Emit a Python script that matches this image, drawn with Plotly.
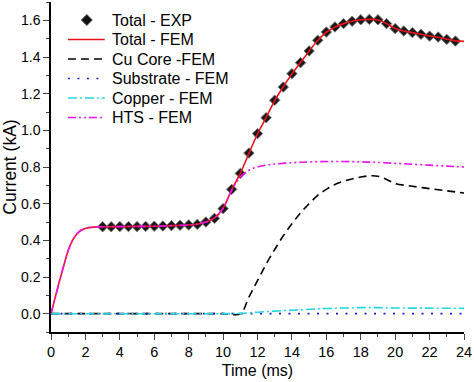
import plotly.graph_objects as go

# Experimental total current (ms, kA)
t_exp = [3.0, 3.5, 4.0, 4.5, 5.0, 5.5, 6.0, 6.5, 7.0, 7.5, 8.0, 8.5, 9.0, 9.5, 10.0,
         10.5, 11.0, 11.5, 12.0, 12.5, 13.0, 13.5, 14.0, 14.5, 15.0, 15.5, 16.0, 16.5,
         17.0, 17.5, 18.0, 18.5, 19.0, 19.5, 20.0, 20.5, 21.0, 21.5, 22.0, 22.5, 23.0, 23.5]
i_exp = [0.474, 0.474, 0.475, 0.475, 0.475, 0.476, 0.477, 0.478, 0.480, 0.482, 0.484, 0.487, 0.500, 0.520, 0.573,
         0.678, 0.765, 0.876, 0.982, 1.069, 1.164, 1.236, 1.309, 1.369, 1.433, 1.491, 1.536, 1.564,
         1.582, 1.595, 1.603, 1.605, 1.603, 1.582, 1.555, 1.542, 1.533, 1.524, 1.514, 1.509, 1.496, 1.487]

# FEM total
t_fem = [0.0, 0.25, 0.5, 0.75, 1.0, 1.25, 1.5, 1.75, 2.0, 2.5, 3.0, 4.0, 5.0, 6.0, 7.0, 8.0, 8.5, 9.0, 9.5, 10.0,
         10.5, 11.0, 11.5, 12.0, 12.5, 13.0, 13.5, 14.0, 14.5, 15.0, 15.5, 16.0, 16.5, 17.0, 17.5, 18.0,
         18.5, 19.0, 19.5, 20.0, 20.5, 21.0, 21.5, 22.0, 22.5, 23.0, 23.5, 24.0]
i_fem = [0.0, 0.09, 0.18, 0.265, 0.345, 0.40, 0.435, 0.455, 0.465, 0.472, 0.474, 0.475, 0.476, 0.477, 0.480, 0.484, 0.488, 0.500, 0.522, 0.575,
         0.676, 0.765, 0.874, 0.980, 1.070, 1.162, 1.238, 1.308, 1.370, 1.432, 1.490, 1.535, 1.563, 1.582, 1.595, 1.603,
         1.605, 1.602, 1.582, 1.556, 1.542, 1.533, 1.524, 1.515, 1.508, 1.497, 1.488, 1.485]

# Cu core
t_cu = [0.0, 10.0, 11.0, 11.5, 12.0, 12.5, 13.0, 13.5, 14.0, 14.5, 15.0, 15.5, 16.0, 16.5, 17.0, 17.5, 18.0,
        18.5, 19.0, 19.5, 20.0, 21.0, 22.0, 23.0, 24.0]
i_cu = [0.0, 0.0, 0.0, 0.09, 0.18, 0.27, 0.35, 0.425, 0.49, 0.55, 0.60, 0.645, 0.678, 0.705, 0.722, 0.735, 0.745,
        0.752, 0.750, 0.732, 0.710, 0.695, 0.682, 0.670, 0.658]

# Substrate
t_sub = [0.0, 6.0, 12.0, 18.0, 24.0]
i_sub = [0.0, 0.0, 0.0, 0.0, 0.0]

# Copper stabilizer
t_cop = [0.0, 10.0, 11.0, 12.0, 13.0, 14.0, 15.0, 16.0, 17.0, 18.0, 19.0, 20.0, 22.0, 24.0]
i_cop = [0.0, 0.0, 0.002, 0.008, 0.014, 0.019, 0.024, 0.028, 0.031, 0.033, 0.033, 0.031, 0.030, 0.029]

# HTS layer
t_hts = [0.0, 0.25, 0.5, 0.75, 1.0, 1.25, 1.5, 1.75, 2.0, 2.5, 3.0, 4.0, 5.0, 6.0, 7.0, 8.0, 8.5, 9.0, 9.5, 10.0,
         10.5, 11.0, 11.5, 12.0, 12.5, 13.0, 14.0, 15.0, 16.0, 17.0, 18.0, 19.0, 20.0, 21.0, 22.0, 23.0, 24.0]
i_hts = [0.0, 0.09, 0.18, 0.265, 0.345, 0.40, 0.435, 0.455, 0.465, 0.472, 0.474, 0.475, 0.476, 0.477, 0.480, 0.484, 0.488, 0.500, 0.522, 0.575,
         0.672, 0.745, 0.782, 0.800, 0.810, 0.816, 0.823, 0.828, 0.830, 0.830, 0.828, 0.825, 0.820, 0.815, 0.810, 0.805, 0.800]

legend_labels = ["Total - EXP", "Total - FEM", "Cu Core -FEM", "Substrate - FEM", "Copper - FEM", "HTS - FEM"]

font = "Liberation Sans, Arial, sans-serif"
W, H = 474, 382
ML, MR, MT, MB = 51, 8, 2, 50
PW, PH = W - ML - MR, H - MT - MB


def px(X):
    return (X - ML) / PW


def py(Y):
    return (H - MB - Y) / PH


styles = [
    None,
    dict(color="#e8141c", width=1.6),
    dict(color="black", width=1.6, dash="8px,5px"),
    dict(color="#1a1acc", width=1.6, dash="2px,7.5px"),
    dict(color="#22d8e0", width=1.6, dash="9px,3px,2px,3px"),
    dict(color="#ee11ee", width=1.6, dash="8px,3px,2px,3px,2px,3px"),
]
series = [(t_exp, i_exp), (t_fem, i_fem), (t_cu, i_cu), (t_sub, i_sub), (t_cop, i_cop), (t_hts, i_hts)]

fig = go.Figure()
for k, ((xs, ys), name) in enumerate(zip(series, legend_labels)):
    if k == 0:
        fig.add_trace(go.Scatter(x=xs, y=ys, mode="markers", name=name,
                                 marker=dict(symbol="diamond", size=8, color="#1a1a1a",
                                             line=dict(color="#777777", width=1))))
    else:
        fig.add_trace(go.Scatter(x=xs, y=ys, mode="lines", name=name,
                                 line_shape="spline" if k != 3 else "linear", line=styles[k]))

# manual legend (layout decoration)
shapes, annotations = [], []
row_y = [20, 39.5, 59, 78.5, 98, 117.5]
for k, (name, Y) in enumerate(zip(legend_labels, row_y)):
    if k == 0:
        cx, s = 87, 5.5
        path = "M {} {} L {} {} L {} {} L {} {} Z".format(px(cx - s), py(Y), px(cx), py(Y - s),
                                                        px(cx + s), py(Y), px(cx), py(Y + s))
        shapes.append(dict(type="path", xref="paper", yref="paper", path=path,
                           fillcolor="#111111", line=dict(color="#555555", width=1)))
    else:
        shapes.append(dict(type="line", xref="paper", yref="paper", x0=px(68), x1=px(105),
                           y0=py(Y), y1=py(Y), line=styles[k]))
    annotations.append(dict(text=name, xref="paper", yref="paper", x=px(110), y=py(Y),
                            xanchor="left", yanchor="middle", showarrow=False,
                            font=dict(family=font, size=16, color="black")))

fig.update_layout(
    width=W, height=H,
    margin=dict(l=ML, r=MR, t=MT, b=MB),
    paper_bgcolor="white", plot_bgcolor="white",
    font=dict(family=font, size=12, color="black"),
    showlegend=False,
    shapes=shapes, annotations=annotations,
    xaxis=dict(range=[0, 24], tick0=0, dtick=2, ticks="outside", ticklen=6, tickwidth=1.3,
               showline=True, linecolor="black", linewidth=1.5, showgrid=False, zeroline=False,
               minor=dict(dtick=1, ticks="outside", ticklen=3, tickwidth=1.3, showgrid=False),
               tickfont=dict(size=14.5), ticklabeloverflow="allow",
               title=dict(text="Time (ms)", font=dict(size=16), standoff=6)),
    yaxis=dict(range=[-0.1, 1.7], tick0=0, dtick=0.2, tickformat=".1f", ticks="outside", ticklen=6, tickwidth=1.3,
               showline=True, linecolor="black", linewidth=1.5, showgrid=False, zeroline=False,
               minor=dict(dtick=0.1, ticks="outside", ticklen=3, tickwidth=1.3, showgrid=False),
               tickfont=dict(size=14), ticklabeloverflow="allow",
               title=dict(text="Current (kA)", font=dict(size=17.5), standoff=3)),
)

fig.write_html("out.html", config={"displayModeBar": False},
               post_script="document.body.style.margin='0';document.body.style.padding='0';")
